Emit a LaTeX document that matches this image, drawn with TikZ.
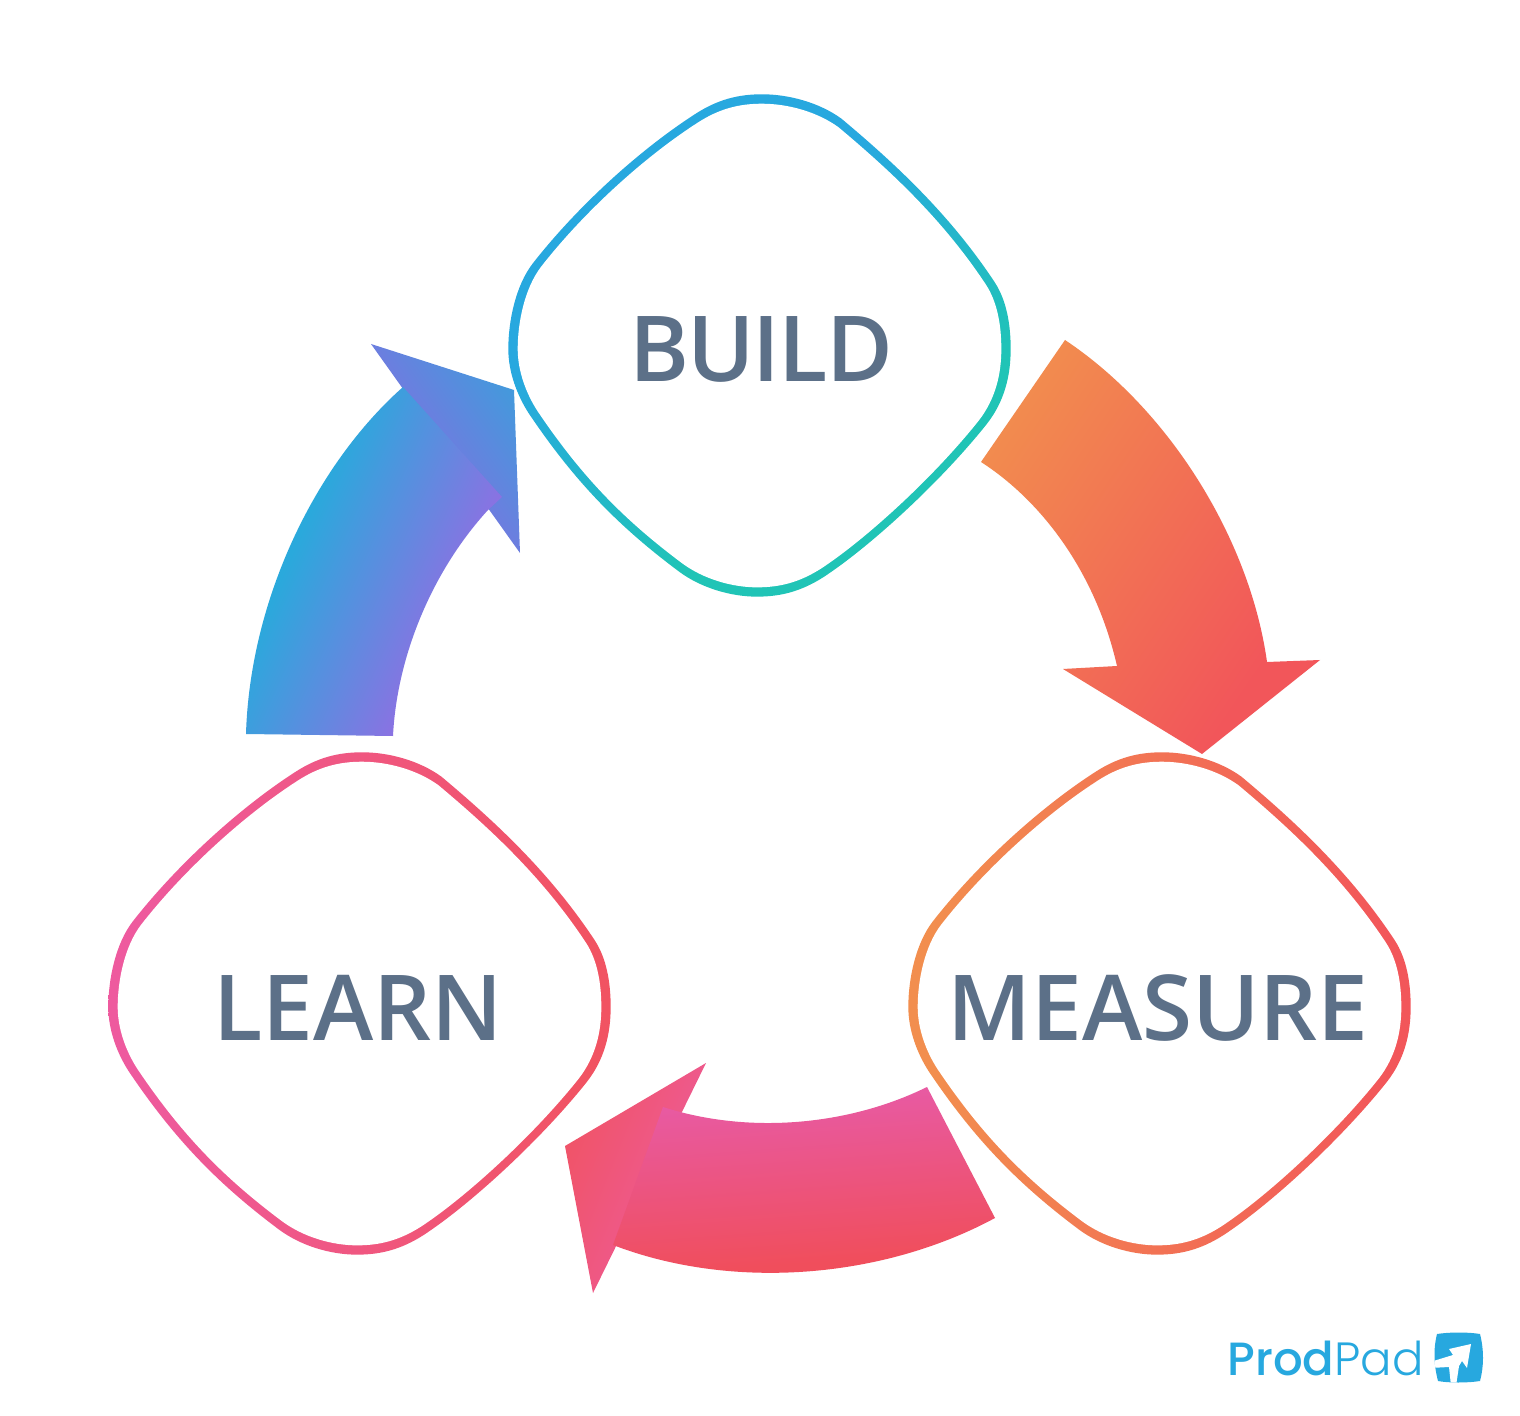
\documentclass[tikz,border=0pt]{standalone}
\usepackage{fontspec}
\IfFontExistsTF{Open Sans Semibold}{\newfontfamily\lab{Open Sans Semibold}\newfontfamily\labt[LetterSpace=-2.2]{Open Sans Semibold}}{\newfontfamily\lab[FakeBold=5]{Open Sans}\newfontfamily\labt[FakeBold=5,LetterSpace=-2.2]{Open Sans}}
\newfontfamily\logoM{Poppins Medium}
\newfontfamily\logoL{Poppins Light}
\definecolor{tx}{HTML}{5C7088}
\definecolor{pb}{HTML}{27A8DF}
\definecolor{pa}{HTML}{2AA9DC}
\definecolor{teal}{HTML}{20C4B6}
\definecolor{org}{HTML}{F28E4E}
\definecolor{red1}{HTML}{F2565A}
\definecolor{pnk}{HTML}{EE5A9E}
\definecolor{red2}{HTML}{F15362}
\definecolor{pur}{HTML}{8A72E2}
\definecolor{hpur}{HTML}{6C7EDF}
\definecolor{hb}{HTML}{4499DC}
\definecolor{ap}{HTML}{E85AA2}
\definecolor{ar}{HTML}{F04E5C}
\definecolor{hr}{HTML}{F0546A}
\definecolor{hp}{HTML}{EE5A90}
\newcounter{gs}
\newcommand\gfill[7]{%
 \stepcounter{gs}%
 \pgfmathsetmacro\gcx{(#2+#4)/2}\pgfmathsetmacro\gcy{(#3+#5)/2}%
 \pgfmathsetmacro\gL{veclen(#4-#2,#5-#3)}%
 \pgfmathsetmacro\gA{50-\gL/48}\pgfmathsetmacro\gB{50+\gL/48}%
 \pgfmathsetmacro\gphi{atan2(-(#5-#3),#4-#2)-90}%
 \edef\gtmp{\noexpand\pgfdeclareverticalshading{gs\arabic{gs}}{100bp}{color(0bp)=(#6); color(\gA bp)=(#6); color(\gB bp)=(#7); color(100bp)=(#7)}}\gtmp
 \begin{scope}\clip #1;
 \shade[shading=gs\arabic{gs},shading angle=\gphi] (\gcx-600,\gcy-600) rectangle (\gcx+600,\gcy+600);
 \end{scope}}
\newcommand\blobp{(246,2) .. controls (246,28) and (240,53) .. (223,75) .. controls (176.5,133.5) and (106.5,197) .. (62,226) .. controls (40,240) and (20,245) .. (-3,245) .. controls (-28,245) and (-57.6,236.8) .. (-80,220) .. controls (-136,178) and (-180,135) .. (-227,65) .. controls (-238,48) and (-247,25) .. (-247,2) .. controls (-247,-25) and (-240,-60) .. (-223,-82) .. controls (-180,-137) and (-119,-193) .. (-63,-229) .. controls (-42,-242.5) and (-22,-248) .. (2,-248) .. controls (28,-248) and (58,-240) .. (80,-224) .. controls (130,-182) and (185,-132) .. (230,-64) .. controls (242,-46) and (246,-22) .. (246,2) -- cycle}
% #1 cx, #2 cy, gradient #3..#6, colours #7 #8
\newcommand\blob[8]{%
 \gfill{[shift={(#1,#2)},scale=1.019] \blobp}{#3}{#4}{#5}{#6}{#7}{#8}%
 \fill[white,shift={(#1,#2)},scale=0.981] \blobp;}
\begin{document}
\begin{tikzpicture}[x=0.5pt,y=-0.5pt,lbl/.style={text=tx,inner sep=0pt,font=\lab\fontsize{45.5pt}{50pt}\selectfont}]
\useasboundingbox (0,0) rectangle (1520,1416);
\fill[white] (0,0) rectangle (1520,1416);
\blob{760}{347}{697}{253}{842}{469}{pb}{teal}
\blob{1160}{1005}{930}{1005}{1390}{1005}{org}{red1}
\blob{360}{1005}{130}{1005}{590}{1005}{pnk}{red2}
\node[lbl,font=\labt\fontsize{45.5pt}{50pt}\selectfont] (build) at (761,349) {BUILD};
\node[lbl] (measure) at (1158,1008) {MEASURE};
\node[lbl] (learn) at (358,1008) {LEARN};
% orange arrow
\gfill{(1065,340) .. controls (1170,410) and (1250,540) .. (1267,662) -- (1320,660) -- (1202,754) -- (1063,669) -- (1117,666) .. controls (1095,570) and (1040,500) .. (981,462) -- cycle}{1000}{400}{1304}{605}{org}{red1}
% blue arrow
\gfill{(371,344) -- (514,390) -- (520,553) -- cycle}{446}{449}{517}{398}{hpur}{hb}
\gfill{(246,734) .. controls (250,600) and (315,465) .. (403,387) -- (502,497) -- (488,510) .. controls (433,570) and (397,655) .. (393,736) -- cycle}{319}{490}{472}{559}{pa}{pur}
% pink arrow
\gfill{(706,1063) -- (565,1146) -- (593,1293) -- cycle}{570}{1150}{670}{1190}{hr}{hp}
\gfill{(927,1087) .. controls (850,1125) and (750,1135) .. (663,1107) -- (613,1245) .. controls (730,1290) and (880,1280) .. (995,1218) -- cycle}{700}{1105}{712}{1270}{ap}{ar}
% logo
\node[inner sep=0pt,anchor=base west,text=pb] (logo) at (1227,1375) {\fontsize{23.3pt}{26pt}\selectfont{\logoM Prod}{\logoL Pad}};
\begin{scope}
\path[clip] (1437,1334) .. controls (1450,1332) and (1468,1332) .. (1480,1334) .. controls (1484,1350) and (1484,1366) .. (1480,1381) .. controls (1468,1383) and (1448,1383) .. (1438,1381) .. controls (1434,1366) and (1433,1350) .. (1437,1334) -- cycle;
\fill[pb] (1430,1330) rectangle (1490,1386);
\fill[white] (1471,1344) -- (1449,1349) -- (1453,1355) -- (1430,1362) -- (1430,1368) -- (1449,1367) -- (1451,1386) -- (1456,1386) -- (1459,1366) -- (1462,1361) -- (1467,1368) -- cycle;
\end{scope}
\end{tikzpicture}
\end{document}
